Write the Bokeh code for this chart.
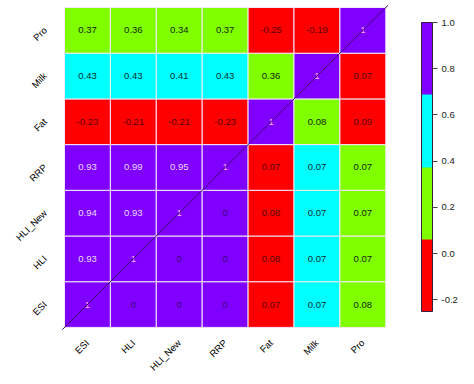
import math
from bokeh.plotting import figure
from bokeh.models import (ColumnDataSource, FixedTicker, ColorBar, LinearColorMapper,
                          PrintfTickFormatter, Range1d)
from bokeh.core.properties import value
from bokeh.embed import file_html
from bokeh.resources import INLINE

variables = ["ESI", "HLI", "HLI_New", "RRP", "Fat", "Milk", "Pro"]

# correlations (lower part in variable order = upper-left of the picture)
corr_ESI = [1.00]
corr_HLI = [0.93, 1.00]
corr_HLI_New = [0.94, 0.93, 1.00]
corr_RRP = [0.93, 0.99, 0.95, 1.00]
corr_Fat = [-0.23, -0.21, -0.21, -0.23, 1.00]
corr_Milk = [0.43, 0.43, 0.41, 0.43, 0.36, 1.00]
corr_Pro = [0.37, 0.36, 0.34, 0.37, -0.25, -0.19, 1.00]

# significance values shown in the other half (row, then columns after it)
p_ESI = [0, 0, 0, 0.07, 0.07, 0.08]
p_HLI = [0, 0, 0.08, 0.07, 0.07]
p_HLI_New = [0, 0.08, 0.07, 0.07]
p_RRP = [0.07, 0.07, 0.07]
p_Fat = [0.08, 0.09]
p_Milk = [0.07]
p_Pro = []

colorbar_ticks = [-0.2, 0.0, 0.2, 0.4, 0.6, 0.8, 1.0]
scale_low, scale_high = -0.25, 1.0
palette = ["#FF0000", "#80FF00", "#00FFFF", "#8000FF"]

corr_rows = [corr_ESI, corr_HLI, corr_HLI_New, corr_RRP, corr_Fat, corr_Milk, corr_Pro]
p_rows = [p_ESI, p_HLI, p_HLI_New, p_RRP, p_Fat, p_Milk, p_Pro]
n = len(variables)

FONT = "Liberation Sans"
FS = "9.5px"

def corr(i, j):
    return corr_rows[i][j] if j <= i else corr_rows[j][i]

def fmt(v):
    if v == 0:
        return "0"
    if v == 1:
        return "1"
    return "%.2f" % v

def bin_of(v):
    k = int((v - scale_low) / (scale_high - scale_low) * len(palette))
    return max(0, min(len(palette) - 1, k))

upper_text_colors = ["#5a0000", "#102400", "#003030", "#eadcff"]
lower_text_colors = ["#5a0000", "#102400", "#003030", "#3a0078"]

xs, ys, fills, labels, tcols = [], [], [], [], []
for i in range(n):        # row variable (y)
    for j in range(n):    # column variable (x)
        c = corr(i, j)
        b = bin_of(c)
        xs.append(j + 0.5)
        ys.append(i + 0.5)
        fills.append(palette[b])
        if j <= i:
            labels.append(fmt(corr_rows[i][j]))
            tcols.append("#ffa8ff" if i == j else upper_text_colors[b])
        else:
            labels.append(fmt(p_rows[i][j - i - 1]))
            tcols.append(lower_text_colors[b])

src = ColumnDataSource(dict(x=xs, y=ys, fill=fills, label=labels, tcol=tcols))

W, H, RIGHT = 474, 384, 86
cell_w, cell_h = 45.9, 45.7
grid_left, grid_top = 64, 7
frame_w = W - RIGHT
p = figure(width=W, height=H, output_backend="svg", toolbar_location=None,
           x_range=Range1d(-grid_left / cell_w, (frame_w - grid_left) / cell_w),
           y_range=Range1d(n - (H - grid_top) / cell_h, n + grid_top / cell_h),
           min_border_left=0, min_border_top=0, min_border_bottom=0, min_border_right=RIGHT)
p.outline_line_color = None
p.xgrid.visible = False
p.ygrid.visible = False
p.xaxis.visible = False
p.yaxis.visible = False

p.rect(x="x", y="y", width=1, height=1, source=src, fill_color="fill",
       line_color="#f4e8f8", line_width=1)
p.text(x="x", y="y", text="label", source=src, text_color="tcol",
       text_align="center", text_baseline="middle", text_font_size=FS,
       text_font=value(FONT))
p.line(x=[-0.05, n + 0.05], y=[-0.05, n + 0.05], line_color="#3c0a6e", line_width=1)

# variable labels, rotated like the reference
pos = [k + 0.5 for k in range(n)]
p.text(x=pos, y=[-0.3] * n, text=variables, angle=math.pi / 4,
       text_align="right", text_baseline="middle", text_font_size=FS,
       text_font=value(FONT), text_color="black")
p.text(x=[-0.42] * n, y=[v + 0.04 for v in pos], text=variables, angle=math.pi / 4,
       text_align="right", text_baseline="middle", text_font_size=FS,
       text_font=value(FONT), text_color="black")

mapper = LinearColorMapper(palette=palette, low=scale_low, high=scale_high)
cb = ColorBar(color_mapper=mapper, ticker=FixedTicker(ticks=colorbar_ticks),
              formatter=PrintfTickFormatter(format="%.1f"),
              width=11, height=289, location=(33, 73), padding=0, margin=0,
              major_tick_in=0, major_tick_out=5, major_tick_line_color="#444444",
              bar_line_color="#3a2040", bar_line_width=1,
              label_standoff=4, major_label_text_font=FONT,
              major_label_text_font_size=FS, major_label_text_color="#222222",
              background_fill_alpha=0, border_line_color=None)
p.add_layout(cb, "right")

open("out.html", "w").write(file_html(p, INLINE))
